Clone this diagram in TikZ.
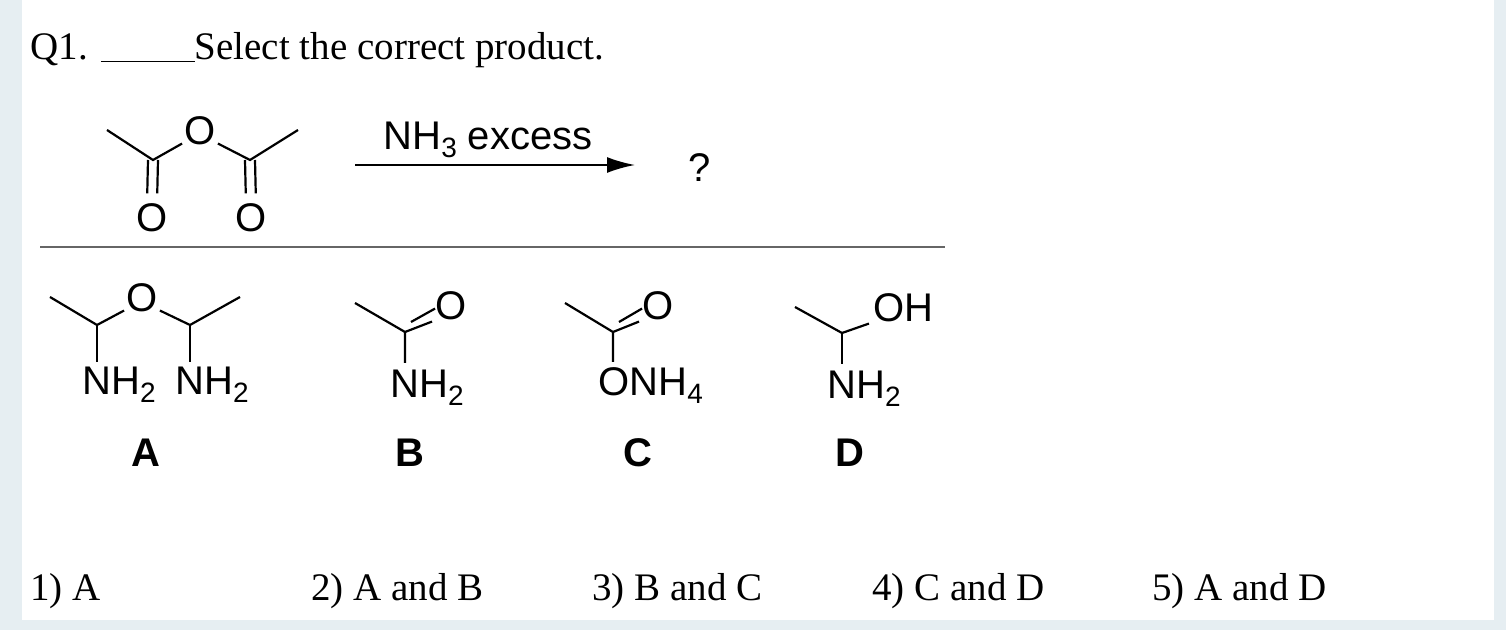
\documentclass[tikz,border=0pt]{standalone}
\usepackage{fontspec}
\usetikzlibrary{arrows.meta}
\setmainfont{Liberation Serif}
\newfontfamily\chem{Liberation Sans}
\definecolor{frame}{HTML}{E6EEF2}
\newcommand{\sbs}[1]{\raisebox{-4pt}{\fontsize{14}{14}\selectfont #1}}
\begin{document}
\begin{tikzpicture}[x=0.5pt,y=-0.5pt,
  bond/.style={line width=1.1pt},
  lab/.style={font=\chem\fontsize{20}{22}\selectfont,inner sep=0pt},
  letter/.style={font=\chem\bfseries\fontsize{20}{22}\selectfont,inner sep=0pt},
  txt/.style={font=\fontsize{19.5}{22}\selectfont,inner sep=0pt,anchor=base west}]
\fill[frame] (0,0) rectangle (1506,630);
\fill[white] (22,0) rectangle (1494,620);
\useasboundingbox (0,0) rectangle (1506,630);
\node[txt] (q) at (30,60) {Q1. \rule[-1pt]{47pt}{0.6pt}Select the correct product.};
% reactant
\node[lab] (o0) at (200,131) {O};
\node[lab] (o1) at (152,218) {O};
\node[lab] (o2) at (251,218) {O};
\coordinate (c1) at (153,160); \coordinate (c2) at (250,160);
\draw[bond] (107,130) -- (c1) -- ([shift={(-2,-2)}]o0.south west);
\draw[bond] ([shift={(2,-2)}]o0.south east) -- (c2) -- (298,130);
\draw[bond,shorten >=5] ([xshift=-2.5]c1) -- ([xshift=-2.5]o1.north);
\draw[bond,shorten >=5] ([xshift=2.5]c1) -- ([xshift=2.5]o1.north);
\draw[bond,shorten >=5] ([xshift=-2.5]c2) -- ([xshift=-2.5]o2.north);
\draw[bond,shorten >=5] ([xshift=2.5]c2) -- ([xshift=2.5]o2.north);
\coordinate (a0) at (355,165); \coordinate (a1) at (635,165);
\draw[line width=1pt,-{Latex[length=14pt,width=8pt]}] (a0) -- (a1);
\node[lab] (rg) at (488,140) {NH\sbs{3} excess};
\node[lab] (qm) at (700,168) {?};
\coordinate (s0) at (40,247); \coordinate (s1) at (945,247);
\draw[black!60,line width=1.3pt] (s0) -- (s1);
% A
\node[lab] (ao) at (142,298) {O};
\coordinate (ac1) at (97,325); \coordinate (ac2) at (190,325);
\draw[bond] (50,297) -- (ac1) -- ([shift={(-2,-2)}]ao.south west);
\draw[bond] ([shift={(2,-2)}]ao.south east) -- (ac2) -- (240,297);
\node[lab,anchor=west] (an1) at (82,385) {NH\sbs{2}};
\node[lab,anchor=west] (an2) at (175,385) {NH\sbs{2}};
\draw[bond] (ac1) -- (97,362);
\draw[bond] (ac2) -- (190,362);
\node[letter] (la) at (146,453) {A};
% B
\node[lab] (bo) at (451,306) {O};
\coordinate (bc) at (405,332);
\draw[bond] (355,303) -- (bc) -- (405,363);
\draw[bond] (bc) -- ([shift={(-3,1)}]bo.south west);
\draw[bond] ([xshift=3,yshift=5]bc) -- ([xshift=0,yshift=6]bo.south west);
\node[lab,anchor=west] (bn) at (390,388) {NH\sbs{2}};
\node[letter] (lb) at (410,453) {B};
% C
\node[lab] (co) at (658,306) {O};
\coordinate (cc) at (613,332);
\draw[bond] (565,303) -- (cc) -- (613,362);
\draw[bond] (cc) -- ([shift={(-3,1)}]co.south west);
\draw[bond] ([xshift=3,yshift=5]cc) -- ([xshift=0,yshift=6]co.south west);
\node[lab,anchor=west] (cn) at (598,386) {ONH\sbs{4}};
\node[letter] (lc) at (638,453) {C};
% D
\node[lab,anchor=west] (doh) at (873,308) {OH};
\coordinate (dc) at (842,333);
\draw[bond] (795,307) -- (dc) -- ([shift={(-4,1)}]doh.south west);
\draw[bond] (dc) -- (842,364);
\node[lab,anchor=west] (dn) at (827,389) {NH\sbs{2}};
\node[letter] (ld) at (850,453) {D};
% answers
\node[txt] (r1) at (30,601) {1) A};
\node[txt] (r2) at (311,601) {2) A and B};
\node[txt] (r3) at (592,601) {3) B and C};
\node[txt] (r4) at (872,601) {4) C and D};
\node[txt] (r5) at (1152,601) {5) A and D};
\end{tikzpicture}
\end{document}
